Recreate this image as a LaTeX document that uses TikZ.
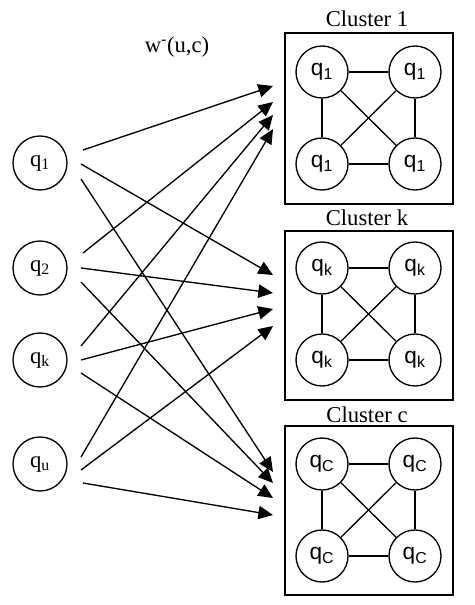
\documentclass[tikz,border=0pt]{standalone}
\usepackage{fontspec}
\setmainfont{Liberation Serif}
\newfontfamily\sansq{Liberation Sans}
\usetikzlibrary{arrows.meta}
\begin{document}
\begin{tikzpicture}[x=0.75pt,y=-0.75pt,
  lnode/.style={circle,draw,line width=1pt,minimum size=40.5pt,inner sep=0pt,font=\fontsize{17}{19}\selectfont},
  cnode/.style={circle,draw,line width=1pt,minimum size=39pt,inner sep=0pt,font=\sansq\fontsize{17}{19}\selectfont},
  clbox/.style={draw,line width=1pt},
  lab/.style={font=\fontsize{17}{20}\selectfont},
  arr/.style={-{Triangle[length=11pt,width=10pt]},line width=1pt},
  cedge/.style={line width=1pt}]
\useasboundingbox (0,0) rectangle (474,605);

% left nodes
\node[lnode] (L1) at (40,163) {q\textsubscript{1}};
\node[lnode] (L2) at (40,268) {q\textsubscript{2}};
\node[lnode] (Lk) at (40,360) {q\textsubscript{k}};
\node[lnode] (Lu) at (40,464) {q\textsubscript{u}};

\node[lab] (w) at (177,47) {w\textsuperscript{-}(u,c)};

% clusters
\draw[clbox] (285,33) rectangle (453,204);
\draw[clbox] (285,231) rectangle (453,400);
\draw[clbox] (285,426) rectangle (453,595);
\node[lab] (t1) at (367,19) {Cluster 1};
\node[lab] (tk) at (367,218) {Cluster k};
\node[lab] (tc) at (367,415) {Cluster c};

\foreach \n/\y/\s in {A/72/1, B/268/k, C/464/C}{
  \node[cnode] (\n1) at (322,\y) {q\textsubscript{\s}};
  \node[cnode] (\n2) at (415,\y) {q\textsubscript{\s}};
  \node[cnode] (\n3) at (322,\y+92) {q\textsubscript{\s}};
  \node[cnode] (\n4) at (415,\y+92) {q\textsubscript{\s}};
  \draw[cedge] (\n1) -- (\n2);
  \draw[cedge] (\n3) -- (\n4);
  \draw[cedge] (\n1) -- (\n3);
  \draw[cedge] (\n2) -- (\n4);
  \draw[cedge] (\n1) -- (\n4);
  \draw[cedge] (\n2) -- (\n3);
}

% arrow start points
\coordinate (s11) at (83,150);
\coordinate (s12) at (81,164);
\coordinate (s13) at (81,179);
\coordinate (s21) at (83,253);
\coordinate (s22) at (81,268);
\coordinate (s23) at (81,282);
\coordinate (sk1) at (81,346);
\coordinate (sk2) at (81,360);
\coordinate (sk3) at (81,373);
\coordinate (su1) at (81,457);
\coordinate (su2) at (81,470);
\coordinate (su3) at (83,483);
% arrow tips
\coordinate (a1) at (273,86);
\coordinate (a2) at (273,102);
\coordinate (a3) at (273,115);
\coordinate (a4) at (273,129);
\coordinate (b1) at (273,275);
\coordinate (b2) at (273,293);
\coordinate (b3) at (273,309);
\coordinate (b4) at (273,326);
\coordinate (c1) at (273,472);
\coordinate (c2) at (273,483);
\coordinate (c3) at (273,498);
\coordinate (c4) at (273,515);

\draw[arr] (s11) -- (a1);
\draw[arr] (s21) -- (a2);
\draw[arr] (sk1) -- (a3);
\draw[arr] (su1) -- (a4);
\draw[arr] (s12) -- (b1);
\draw[arr] (s22) -- (b2);
\draw[arr] (sk2) -- (b3);
\draw[arr] (su2) -- (b4);
\draw[arr] (s13) -- (c1);
\draw[arr] (s23) -- (c2);
\draw[arr] (sk3) -- (c3);
\draw[arr] (su3) -- (c4);
\end{tikzpicture}
\end{document}
